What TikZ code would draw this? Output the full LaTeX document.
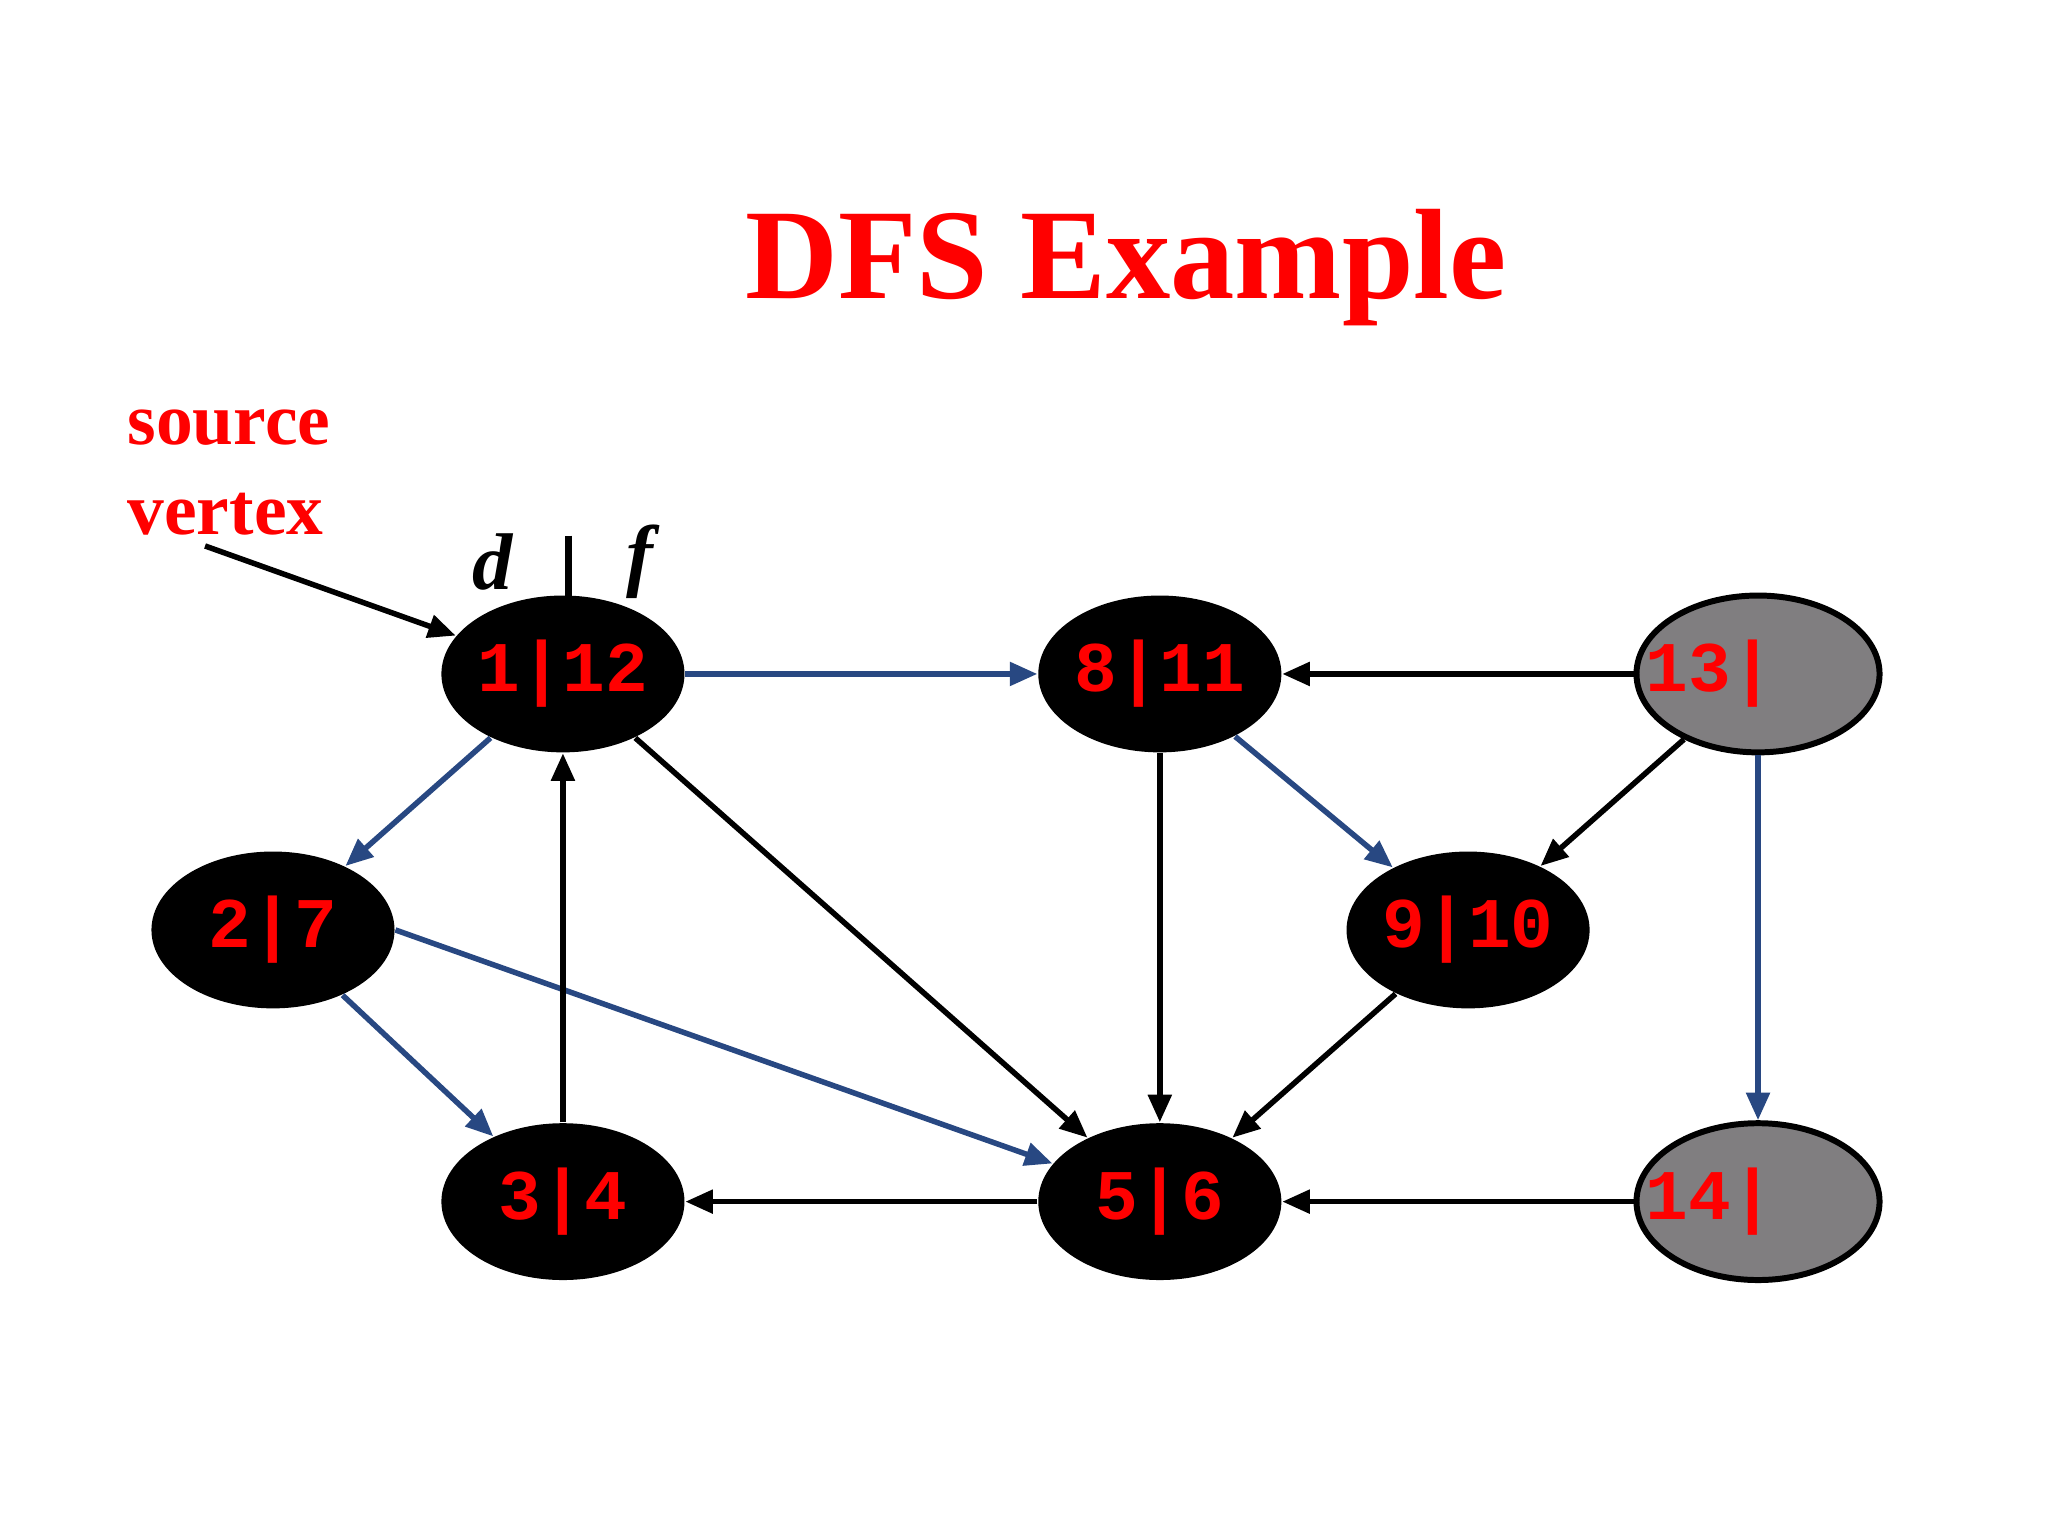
\documentclass[tikz,border=0pt]{standalone}
\usepackage{fontspec}
\setmainfont{Liberation Serif}
\newfontfamily\monob{Liberation Mono}
\usetikzlibrary{shapes.geometric,arrows.meta}
\definecolor{eblue}{RGB}{40,72,130}
\definecolor{vred}{RGB}{255,0,0}
\definecolor{vgray}{RGB}{128,126,128}
\begin{document}
\begin{tikzpicture}[x=0.01cm,y=-0.01cm,
  vtx/.style={ellipse,minimum width=1.86cm,minimum height=1.2cm,fill=black,inner sep=0pt,
    text=vred,font=\monob\bfseries\fontsize{15.5}{15.5}\selectfont},
  gvtx/.style={vtx,fill=vgray,draw=black,line width=1.3pt},
  te/.style={-{Triangle[length=6pt,width=5pt]},line width=1.2pt,eblue},
  ke/.style={-{Triangle[length=6pt,width=5pt]},line width=1.2pt,black}]
\useasboundingbox (0,0) rectangle (1568,1176);
\node[font=\bfseries\fontsize{28}{28}\selectfont,text=vred] (title) at (862,205) {DFS Example};
\node[font=\bfseries\fontsize{16}{19.5}\selectfont,text=vred,align=left,anchor=north west,inner sep=0pt] (src) at (97,313) {source\\vertex};
\node[vtx] (a) at (431,516) {1|12};
\node[vtx] (h) at (888,516) {8|11};
\node[gvtx] (m) at (1346,516) {\hspace*{-0.74cm}13|};
\node[vtx] (b) at (209,712) {2|7};
\node[vtx] (i) at (1124,712) {9|10};
\node[vtx] (c) at (431,920) {3|4};
\node[vtx] (e) at (888,920) {5|6};
\node[gvtx] (n) at (1346,920) {\hspace*{-0.74cm}14|};
\node[font=\bfseries\itshape\fontsize{17.5}{17.5}\selectfont] (d) at (377,430) {d};
\node[font=\bfseries\itshape\fontsize{17.5}{17.5}\selectfont] (f) at (490,430) {f};
\coordinate (lt) at (435,410);
\coordinate (lb) at (435,456);
\draw[line width=1.5pt] (lt) -- (lb);
\coordinate (s0) at (157,418);
\draw[ke] (s0) -- (a);
\draw[te] (a) -- (h);
\draw[te] (a) -- (b);
\draw[te] (b) -- (c);
\draw[te] (b.east) -- (e);
\draw[ke] (a) -- (e);
\draw[ke] (c) -- (a);
\draw[ke] (e) -- (c);
\draw[ke] (h) -- (e);
\draw[te] (h) -- (i);
\draw[ke] (i) -- (e);
\draw[ke] (m) -- (h);
\draw[ke] (m) -- (i);
\draw[te] (m) -- (n);
\draw[ke] (n) -- (e);
\end{tikzpicture}
\end{document}
